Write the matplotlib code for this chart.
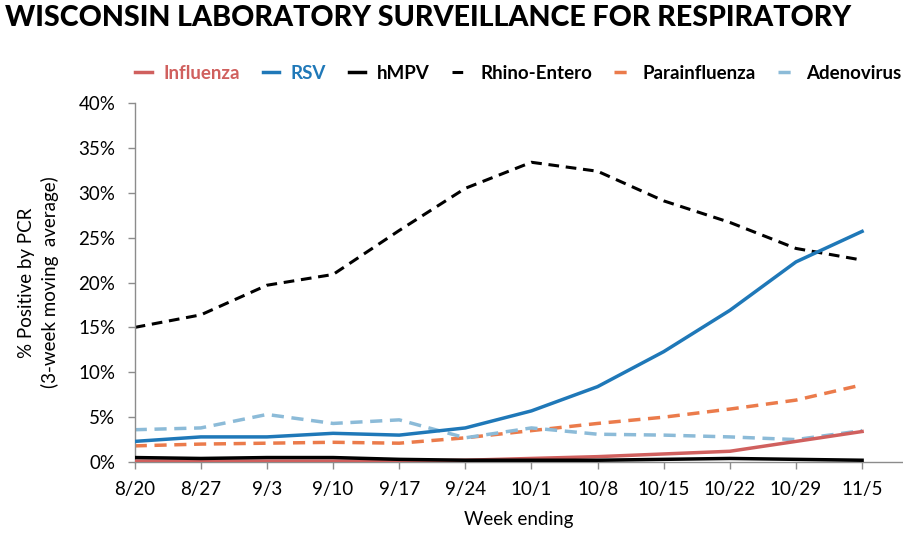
import matplotlib.pyplot as plt
from matplotlib.ticker import FuncFormatter

weeks = ["8/20", "8/27", "9/3", "9/10", "9/17", "9/24", "10/1", "10/8",
         "10/15", "10/22", "10/29", "11/5"]

influenza = [0.1, 0.1, 0.1, 0.1, 0.1, 0.2, 0.4, 0.6, 0.9, 1.2, 2.3, 3.4]
rsv = [2.3, 2.8, 2.8, 3.2, 3.0, 3.8, 5.7, 8.4, 12.3, 16.9, 22.3, 25.7]
hmpv = [0.5, 0.4, 0.5, 0.5, 0.3, 0.2, 0.2, 0.2, 0.3, 0.4, 0.3, 0.2]
rhino = [15.0, 16.4, 19.7, 20.9, 25.8, 30.5, 33.4, 32.4, 29.1, 26.7, 23.8, 22.5]
parainfluenza = [1.8, 2.0, 2.1, 2.2, 2.1, 2.7, 3.5, 4.3, 5.0, 5.9, 6.9, 8.6]
adenovirus = [3.6, 3.8, 5.3, 4.3, 4.7, 2.7, 3.8, 3.1, 3.0, 2.8, 2.5, 3.5]

RED = "#d0605e"
BLUE = "#1f78b8"
ORANGE = "#eb7b4b"
LIGHT = "#8cbbd8"
GRAY = "#8c8c8c"

plt.rcParams["font.family"] = ["Lato", "DejaVu Sans"]

fig = plt.figure(figsize=(9.04, 5.54), dpi=100)
ax = fig.add_axes([0.149, 0.166, 0.85, 0.648])

x = list(range(len(weeks)))
DASH = (0, (3.5, 2.2))
ax.plot(x, influenza, color=RED, lw=2.5, label="Influenza", zorder=3)
ax.plot(x, rsv, color=BLUE, lw=2.5, label="RSV", zorder=4)
ax.plot(x, hmpv, color="black", lw=2.5, label="hMPV", zorder=3)
ax.plot(x, rhino, color="black", lw=2.2, ls=DASH, label="Rhino-Entero")
ax.plot(x, parainfluenza, color=ORANGE, lw=2.5, ls=DASH, label="Parainfluenza")
ax.plot(x, adenovirus, color=LIGHT, lw=2.5, ls=DASH, label="Adenovirus")

ax.set_xlim(0, 11.62)
ax.set_ylim(0, 40)
ax.set_yticks(range(0, 41, 5))
ax.yaxis.set_major_formatter(FuncFormatter(lambda v, p: f"{v:.0f}%"))
ax.set_xticks(x)
ax.set_xticklabels(weeks)

for s in ["top", "right"]:
    ax.spines[s].set_visible(False)
for s in ["left", "bottom"]:
    ax.spines[s].set_color(GRAY)
    ax.spines[s].set_linewidth(1.0)
ax.tick_params(axis="both", colors=GRAY, labelcolor="black", labelsize=13.5,
               length=5, width=1, pad=9)

ax.set_xlabel("Week ending", fontsize=13.5, labelpad=9)
ax.set_ylabel("% Positive by PCR\n(3-week moving  average)", fontsize=13.5,
              labelpad=14, linespacing=1.35)

fig.text(0.006, 0.967, "WISCONSIN LABORATORY SURVEILLANCE FOR RESPIRATORY",
         fontsize=20.6, fontweight="black", va="center", ha="left")

handles, labels = ax.get_legend_handles_labels()
leg = fig.legend(handles, labels, loc="center", bbox_to_anchor=(0.5736, 0.868),
                 ncol=6, frameon=False, handlelength=0.9,
                 handletextpad=0.6, columnspacing=1.2,
                 labelcolor=[RED, BLUE, "black", "black", "black", "black"],
                 prop={"weight": "bold", "size": 13.5})

fig.savefig("out.png", dpi=100)
